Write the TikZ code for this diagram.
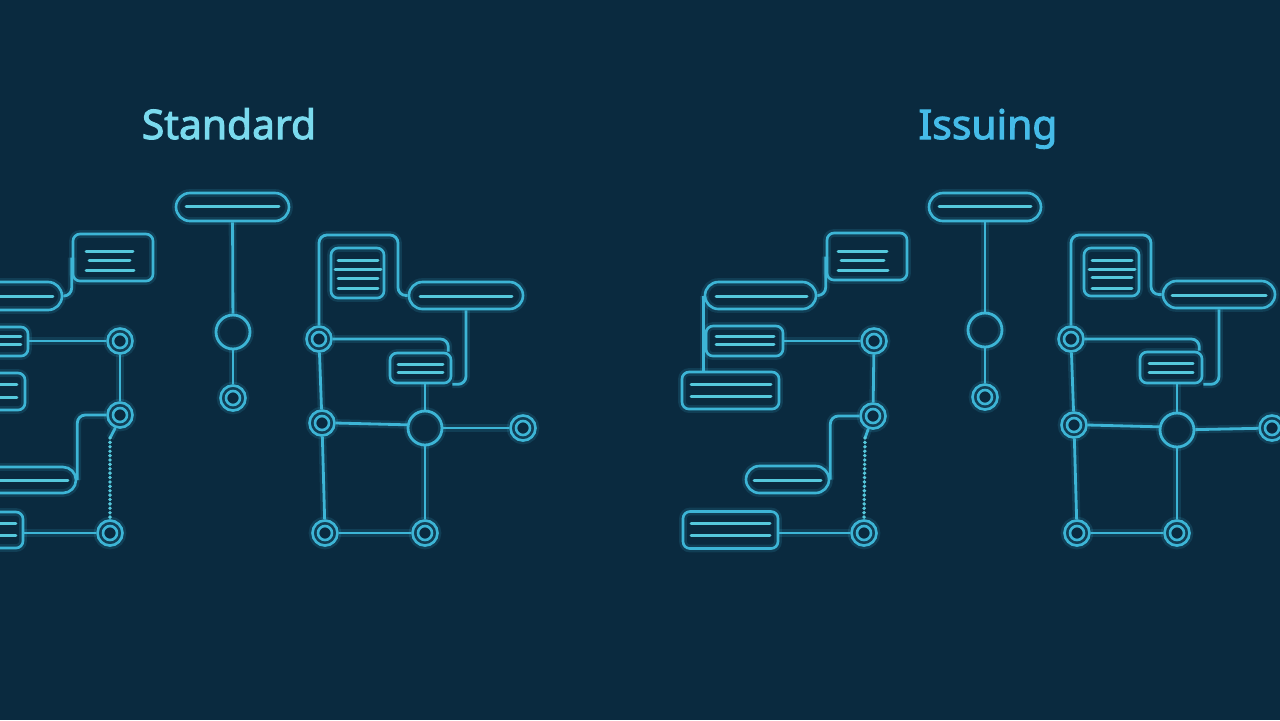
\documentclass[tikz,border=0pt]{standalone}
\usepackage{fontspec}
\setmainfont{Noto Sans}
\newfontfamily\ttlfont{Noto Sans}[FakeBold=2.5]
\usetikzlibrary{shapes.misc}
\definecolor{bg}{HTML}{0A2A3F}
\definecolor{lc}{HTML}{3DB5D6}
\definecolor{ic}{HTML}{55C8DC}
\definecolor{tA}{HTML}{7ADAEE}
\definecolor{tB}{HTML}{45BBE8}
\begin{document}
\begin{tikzpicture}[x=0.1mm,y=-0.1mm,
  glow/.style={preaction={draw=lc,draw opacity=0.15,line width=2.2pt}},
  conn/.style={draw=lc,line width=0.8pt,rounded corners=0.8mm,glow},
  boxn/.style={rectangle,draw=lc,line width=0.75pt,rounded corners=0.7mm,inner sep=0pt,glow},
  pill/.style={rounded rectangle,draw=lc,line width=0.75pt,inner sep=0pt,glow},
  ring/.style={circle,draw=lc,line width=0.75pt,minimum size=2.5mm,inner sep=0pt,glow,
    path picture={\draw[lc,line width=0.75pt] (path picture bounding box.center) circle[radius=0.7mm];}},
  hub/.style={circle,draw=lc,line width=0.8pt,minimum size=3.4mm,inner sep=0pt,glow},
  txtl/.style={draw=ic,line width=0.85pt,line cap=round},
  dots/.style={draw=ic,line width=1.1pt,line cap=round,dash pattern=on 0pt off 1.25pt},
  ttl/.style={font=\ttlfont\fontsize{11.6}{14}\selectfont,anchor=base}
]
\useasboundingbox (0,0) rectangle (1280,720);
\fill[bg] (0,0) rectangle (1280,720);
\clip (0,0) rectangle (1280,720);

% ---------------- titles
\node[ttl,text=tA] (title1) at (229,139) {Standard};
\node[ttl,text=tB] (title2) at (988,139) {Issuing};

% ================= STANDARD =================
% central stem
\node[pill,minimum width=11.3mm,minimum height=2.8mm] (t1) at (232.5,207) {};
\draw[txtl] (186,206) -- (279,206);
\node[hub] (c0) at (233,332) {};
\node[ring] (r0) at (233,398) {};
\draw[conn] (t1) -- (c0);
\draw[conn] (c0) -- (r0);

% left cluster
\node[boxn,minimum width=8mm,minimum height=4.7mm] (s1) at (113,257.5) {};
\draw[txtl] (86,251) -- (133,251);
\draw[txtl] (89,260) -- (130,260);
\draw[txtl] (86,270) -- (134,270);
\node[pill,minimum width=10.2mm,minimum height=2.8mm] (s2) at (11,296) {};
\draw[txtl] (-30,296) -- (53,296);
\draw[conn] (s2.east) -| (s1.west);

\node[boxn,minimum width=6.8mm,minimum height=2.9mm] (s3) at (-6,341.5) {};
\draw[txtl] (-40,336) -- (21,336);
\draw[txtl] (-40,344) -- (21,344);
\node[ring] (g1) at (120,341) {};
\draw[conn] (s3.east |- g1) -- (g1.west);

\node[boxn,minimum width=6.5mm,minimum height=3.7mm] (s4) at (-7.5,391.5) {};
\draw[txtl] (-40,384) -- (17,384);
\draw[txtl] (-40,397) -- (17,397);
\node[ring] (h1) at (120,415) {};
\draw[conn] (g1) -- (h1);

\node[pill,minimum width=13.6mm,minimum height=2.6mm] (s5) at (8,480) {};
\draw[txtl] (-40,480) -- (68,480);
\draw[conn] (s5.east) |- (h1.west);

\node[ring] (i1) at (110,533) {};
\coordinate (dd1) at (110,438);
\draw[conn] (h1.250) -- (dd1);
\draw[dots] (dd1) -- (i1.north);
\node[boxn,minimum width=6.3mm,minimum height=3.6mm] (s6) at (-8.5,530) {};
\draw[txtl] (-40,523) -- (16,523);
\draw[txtl] (-40,535) -- (16,535);
\draw[conn] (s6.east |- i1) -- (i1.west);

% right cluster
\node[ring] (a1) at (319,339) {};
\node[ring] (b1) at (322,423) {};
\node[hub] (c1) at (425,428) {};
\node[ring] (dr1) at (523,428) {};
\node[ring] (e1) at (325,533) {};
\node[ring] (f1) at (425,533) {};
\node[boxn,minimum width=5.3mm,minimum height=5mm] (doc1) at (357.5,273) {};
\draw[txtl] (338,260) -- (378,260);
\draw[txtl] (335,269) -- (381,269);
\draw[txtl] (338,278) -- (378,278);
\draw[txtl] (338,288) -- (378,288);
\node[pill,minimum width=11.4mm,minimum height=2.7mm] (p1) at (466,295.5) {};
\draw[txtl] (420,296) -- (512,296);
\node[boxn,minimum width=6.1mm,minimum height=3mm] (m1) at (420.5,368) {};
\draw[txtl] (398,364) -- (443,364);
\draw[txtl] (398,372) -- (443,372);
\coordinate (k1) at (398,235);
\draw[conn] (a1.north) |- (k1) |- (p1.west);
\draw[conn] (p1.south) |- (m1.south east);
\draw[conn] (a1.east) -| ([xshift=-0.4mm]m1.north east);
\draw[conn] (m1.south -| c1) -- (c1.north);
\draw[conn] (a1) -- (b1);
\draw[conn] (b1.east) -- (c1.170);
\draw[conn] (c1) -- (dr1);
\draw[conn] (b1) -- (e1);
\draw[conn] (c1) -- (f1);
\draw[conn] (e1) -- (f1);

% ================= ISSUING =================
\node[pill,minimum width=11.2mm,minimum height=2.8mm] (t2) at (985,207) {};
\draw[txtl] (939,206) -- (1031,206);
\node[hub] (c2) at (985,330) {};
\node[ring] (r2) at (985,397) {};
\draw[conn] (t2) -- (c2);
\draw[conn] (c2) -- (r2);

% left cluster
\node[boxn,minimum width=8mm,minimum height=4.7mm] (u1) at (867,256.5) {};
\draw[txtl] (838,251) -- (887,251);
\draw[txtl] (841,260) -- (884,260);
\draw[txtl] (838,270) -- (888,270);
\node[pill,minimum width=11.1mm,minimum height=2.7mm] (u2) at (760.5,295.5) {};
\draw[txtl] (716,296) -- (807,296);
\draw[conn] (u2.east) -| (u1.west);

\node[boxn,minimum width=7.7mm,minimum height=3mm] (u3) at (744.5,341) {};
\draw[txtl] (716,336) -- (774,336);
\draw[txtl] (716,344) -- (774,344);
\node[boxn,minimum width=9.7mm,minimum height=3.7mm] (u4) at (730.5,390.5) {};
\draw[txtl] (691,384) -- (771,384);
\draw[txtl] (691,396) -- (771,396);
\draw[conn] (u2.west) -- (u2.west |- u4.north);
\node[ring] (g2) at (874,341) {};
\draw[conn] (u3.east |- g2) -- (g2.west);
\node[ring] (h2) at (873,416) {};
\draw[conn] (g2) -- (h2);

\node[pill,minimum width=8.3mm,minimum height=2.7mm] (u5) at (787.5,479.5) {};
\draw[txtl] (754,480) -- (821,480);
\draw[conn] (u5.east) |- (h2.west);

\node[ring] (i2) at (864,533) {};
\coordinate (dd2) at (865,438);
\draw[conn] (h2.250) -- (dd2);
\draw[dots] (dd2) -- (i2.north);
\node[boxn,minimum width=9.5mm,minimum height=3.7mm] (u6) at (730.5,530) {};
\draw[txtl] (691,523) -- (770,523);
\draw[txtl] (691,535) -- (770,535);
\draw[conn] (u6.east |- i2) -- (i2.west);

% right cluster
\node[ring] (a2) at (1071,339) {};
\node[ring] (b2) at (1074,425) {};
\node[hub] (cc2) at (1177,430) {};
\node[ring] (dr2) at (1272,428) {};
\node[ring] (e2) at (1077,533) {};
\node[ring] (f2) at (1177,533) {};
\node[boxn,minimum width=5.5mm,minimum height=4.8mm] (doc2) at (1111.5,272) {};
\draw[txtl] (1092,260) -- (1132,260);
\draw[txtl] (1089,269) -- (1135,269);
\draw[txtl] (1092,277) -- (1132,277);
\draw[txtl] (1092,288) -- (1132,288);
\node[pill,minimum width=11.2mm,minimum height=2.7mm] (p2) at (1219,294.5) {};
\draw[txtl] (1172,295) -- (1266,295);
\node[boxn,minimum width=6.2mm,minimum height=3.1mm] (m2) at (1171,367.5) {};
\draw[txtl] (1149,363) -- (1193,363);
\draw[txtl] (1149,372) -- (1193,372);
\coordinate (k2) at (1151,235);
\draw[conn] (a2.north) |- (k2) |- (p2.west);
\draw[conn] (p2.south) |- (m2.south east);
\draw[conn] (a2.east) -| ([xshift=-0.4mm]m2.north east);
\draw[conn] (m2.south -| cc2) -- (cc2.north);
\draw[conn] (a2) -- (b2);
\draw[conn] (b2.east) -- (cc2.170);
\draw[conn] (cc2) -- (dr2);
\draw[conn] (b2) -- (e2);
\draw[conn] (cc2) -- (f2);
\draw[conn] (e2) -- (f2);
\end{tikzpicture}
\end{document}
